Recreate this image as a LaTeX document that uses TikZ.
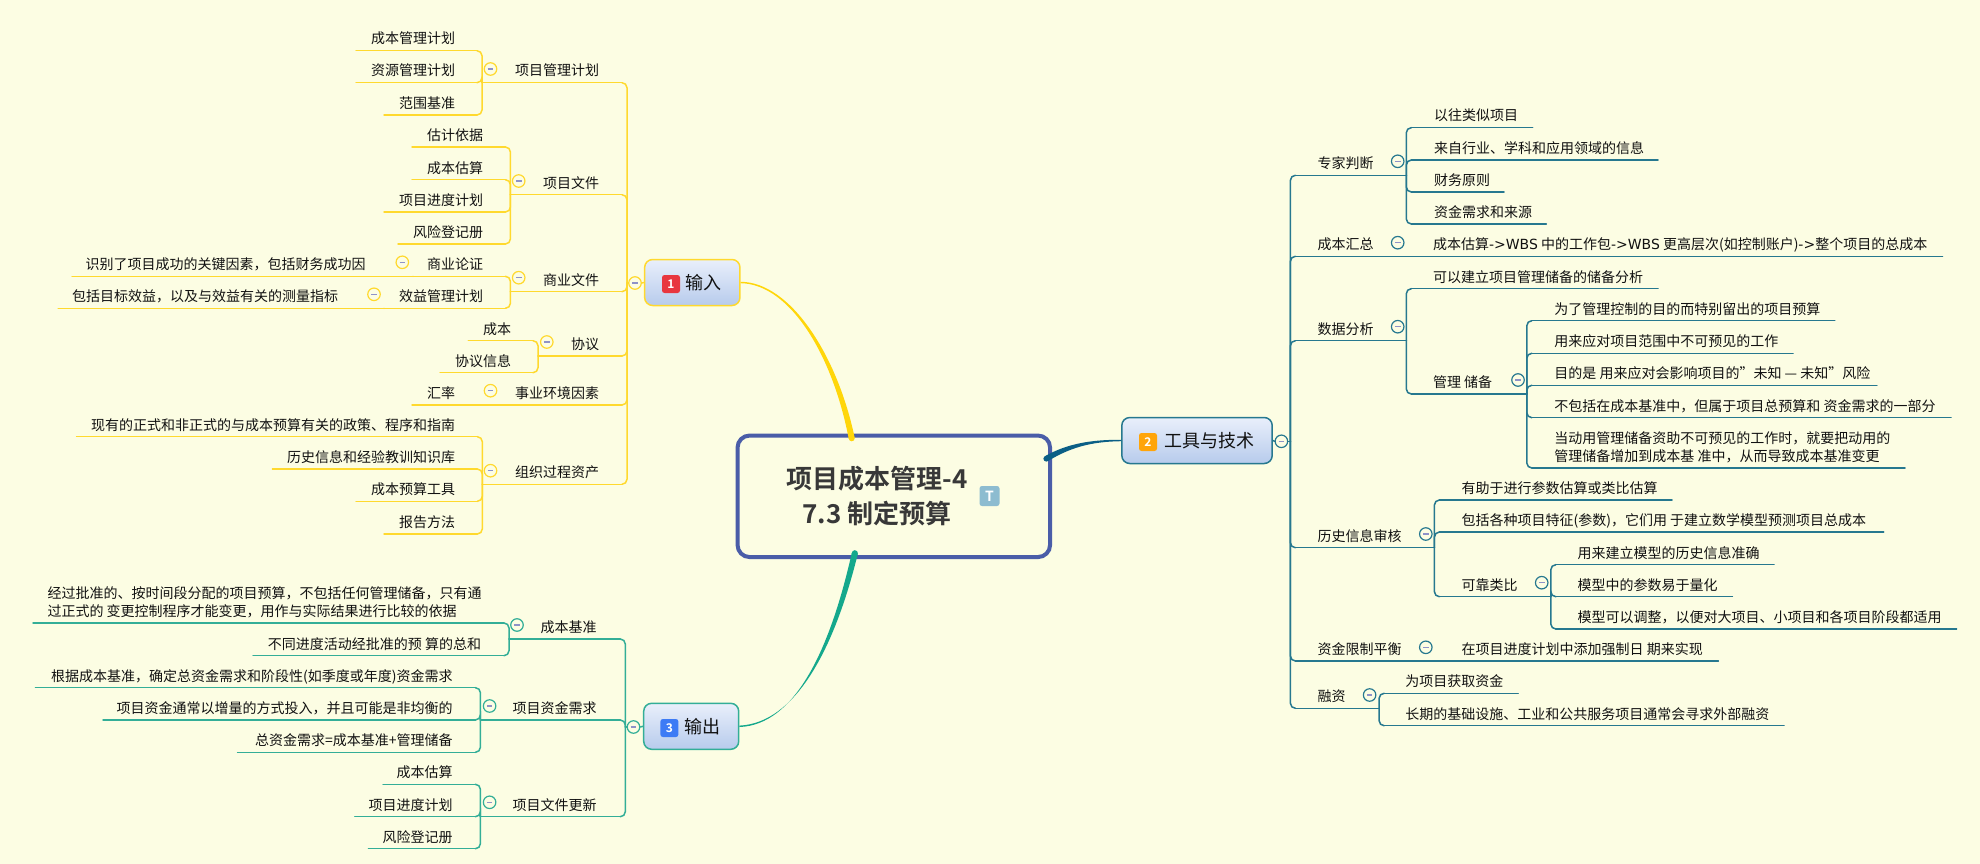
\documentclass[tikz,border=0pt]{standalone}
\usepackage{fontspec}
\setmainfont{Noto Sans CJK SC}[BoldFont=Noto Sans CJK SC Bold]
\newfontfamily\lat{DejaVu Sans}
\usetikzlibrary{calc}
\definecolor{bgc}{HTML}{FCFDE3}
\definecolor{ycol}{HTML}{FFD92E}
\definecolor{gcol}{HTML}{33AE97}
\definecolor{bcol}{HTML}{26788F}
\definecolor{ymain}{HTML}{FFD60A}
\definecolor{gmain}{HTML}{14A88C}
\definecolor{bmain}{HTML}{0B5F86}
\definecolor{mainc}{HTML}{4A5DA8}
\definecolor{topt}{HTML}{E9EFFB}
\definecolor{topb}{HTML}{B7CBEC}
\definecolor{minusc}{HTML}{8E92C8}
\definecolor{txt}{HTML}{111111}
\definecolor{ic1}{HTML}{E8363F}
\definecolor{ic2}{HTML}{FFA50A}
\definecolor{ic3}{HTML}{3D7BF5}
\definecolor{icT}{HTML}{8DBCD0}
\colorlet{br}{ycol}
\tikzset{
  leaf/.style={inner sep=0pt,outer sep=0pt,text=txt,font=\fontsize{14pt}{18.3pt}\selectfont},
  ul/.style={draw=br,line width=1.5pt,line cap=round},
  tog/.style={circle,draw=br,fill=bgc,line width=1.2pt,minimum size=12.5pt,inner sep=0pt,
    path picture={\draw[minusc,line width=1.2pt] ([xshift=-2.8pt]path picture bounding box.center) -- ([xshift=2.8pt]path picture bounding box.center);}},
  topicbox/.style={draw=br,line width=1.5pt,rounded corners=8pt,top color=topt,bottom color=topb,
    text=txt,font=\fontsize{18pt}{22pt}\selectfont,inner sep=0pt,minimum height=46pt},
  icon/.style={rounded corners=2.5pt,minimum size=18pt,inner sep=0pt,text=white,font=\fontsize{12pt}{14pt}\selectfont\bfseries},
  mainbox/.style={draw=mainc,line width=4pt,rounded corners=12pt,fill=bgc,minimum width=312.5pt,minimum height=121.5pt,
    inner sep=0pt,align=center,text=black!78,font=\fontsize{26pt}{35pt}\selectfont\bfseries},
}
\newcommand\ls{\rule[-6.7pt]{0pt}{12pt}}
\newcommand\leafR[6]{%
  \pgfmathsetmacro\lfW{#3-(#2)}\pgfmathsetmacro\lfP{#5-(#2)}%
  \node[leaf,anchor=south west,text width=\lfW pt,align=flush left] (#1) at (#2,#4) {\hspace*{\lfP pt}\mbox{#6}\ls};
  \draw[ul] ($(#1.south west)+(5,0)$) -- (#1.south east);}
\newcommand\leafRR[7]{%
  \pgfmathsetmacro\lfW{#3-(#2)}\pgfmathsetmacro\lfP{#5-(#2)}%
  \node[leaf,anchor=south west,text width=\lfW pt,align=flush left] (#1) at (#2,#4) {\hspace*{\lfP pt}\mbox{#6}\\\hspace*{\lfP pt}\mbox{#7}\ls};
  \draw[ul] ($(#1.south west)+(5,0)$) -- (#1.south east);}
\newcommand\leafL[6]{%
  \pgfmathsetmacro\lfW{#3-(#2)}\pgfmathsetmacro\lfP{#3-(#5)}%
  \node[leaf,anchor=south east,text width=\lfW pt,align=flush right] (#1) at (#3,#4) {\mbox{#6\ls}\hspace*{\lfP pt}};
  \draw[ul] (#1.south west) -- ($(#1.south east)+(-5,0)$);}
\newcommand\leafLL[7]{%
  \pgfmathsetmacro\lfW{#3-(#2)}\pgfmathsetmacro\lfP{#5-(#2)}%
  \node[leaf,anchor=south east,text width=\lfW pt,align=flush left] (#1) at (#3,#4) {\hspace*{\lfP pt}\mbox{#6}\\\hspace*{\lfP pt}\mbox{#7}\ls};
  \draw[ul] (#1.south west) -- ($(#1.south east)+(-5,0)$);}
\newcommand\brL[2]{\draw[ul,rounded corners=5pt] (#1.south west) |- ($(#2.south east)+(-5,0)$);}
\newcommand\brR[2]{\draw[ul,rounded corners=5pt] (#1.south east) |- ($(#2.south west)+(5,0)$);}
\newcommand\strL[2]{\draw[ul] (#1.south west) -- (#2.south east);\draw[ul] ($(#2.south east)+(-6,0)$) -- (#2.south east);}
\newcommand\strR[2]{\draw[ul] (#1.south east) -- ($(#2.south west)+(6,0)$);}
\newcommand\topL[2]{\draw[ul,rounded corners=5pt] (#1) |- ($(#2.south east)+(-5,0)$);}
\newcommand\topR[2]{\draw[ul,rounded corners=5pt] (#1) |- ($(#2.south west)+(5,0)$);}
\begin{document}
\begin{tikzpicture}[x=1pt,y=-1pt]
\useasboundingbox (0,0) rectangle (1980,864);
\fill[bgc] (0,0) rectangle (1980,864);

%% central topic
\node[mainbox] (main) at (893.8,496.3) {项目成本管理-4\hspace*{33.6pt}\\7.3 制定预算\hspace*{33.6pt}};
\node[icon,fill=icT,minimum size=20pt,font=\fontsize{14pt}{16pt}\selectfont\bfseries] (ticon) at (989.5,496) {T};

%% ===== input branch (yellow)
\colorlet{br}{ycol}
\node[topicbox,minimum width=95.3pt] (in) at (692.3,282.5) {\hspace*{22pt}\raisebox{-1pt}{输入}};
\node[icon,fill=ic1] (in-i) at (671,284) {1};
\coordinate (inj) at (627,283);
\node[tog] (in-t) at (635,283) {};
\draw[ul] (in-t.east) -- (in.west);
\draw[ul] (in-t.west) -- (inj);
\coordinate (inm) at (851.7,438.3);
\fill[ymain] ($(in.east)+(0,-.7)$) .. controls (790,282) and (837.2,354.6) .. ($(inm)+(2.95,-.6)$)
  -- ($(inm)+(-2.95,.6)$) .. controls (832.8,355.4) and (790,284) .. ($(in.east)+(0,.7)$) -- cycle;
\fill[ymain] (inm) circle[radius=3];

\leafL{a1}{482}{627}{82.7}{599}{项目管理计划}
\leafL{a11}{356}{482}{50.7}{455}{成本管理计划}
\leafL{a12}{356}{482}{82.7}{455}{资源管理计划}
\leafL{a13}{384}{482}{115}{455}{范围基准}
\brL{a1}{a11}\brL{a1}{a12}\brL{a1}{a13}
\node[tog] (a1t) at (490.5,69) {};

\leafL{a2}{510.4}{627}{194.7}{599}{项目文件}
\leafL{a21}{412}{510.4}{147}{483}{估计依据}
\leafL{a22}{412}{510.4}{179.7}{483}{成本估算}
\leafL{a23}{384}{510.4}{212}{483}{项目进度计划}
\leafL{a24}{398}{510.4}{244}{483}{风险登记册}
\brL{a2}{a21}\brL{a2}{a22}\brL{a2}{a23}\brL{a2}{a24}
\node[tog] (a2t) at (518.7,181) {};

\leafL{a3}{510.4}{627}{291.7}{599}{商业文件}
\leafL{a31}{413}{510.4}{276.3}{483}{商业论证}
\leafL{a32}{384}{510.4}{308.3}{483}{效益管理计划}
\leafL{a311}{72}{413}{276.3}{365.5}{识别了项目成功的关键因素，包括财务成功因}
\leafL{a321}{58.2}{384}{308.3}{338}{包括目标效益，以及与效益有关的测量指标}
\brL{a3}{a31}\brL{a3}{a32}
\strL{a31}{a311}
\strL{a32}{a321}
\node[tog] (a3t) at (518.7,277.7) {};
\node[tog] (a31t) at (402.3,262.3) {};
\node[tog] (a32t) at (374,294.3) {};

\leafL{a4}{538}{627}{356}{599}{协议}
\leafL{a41}{468.3}{538}{340.7}{511}{成本}
\leafL{a42}{440}{538}{372.7}{511}{协议信息}
\brL{a4}{a41}\brL{a4}{a42}
\node[tog] (a4t) at (546.8,342) {};

\leafL{a5}{482}{627}{405}{599}{事业环境因素}
\leafL{a51}{412}{482}{405}{455}{汇率}
\strL{a5}{a51}
\node[tog] (a5t) at (490.5,390.7) {};

\leafL{a6}{482.3}{627}{484.3}{599}{组织过程资产}
\leafL{a61}{76.6}{482.3}{436.7}{455}{现有的正式和非正式的与成本预算有关的政策、程序和指南}
\leafL{a62}{272.4}{482.3}{469}{455}{历史信息和经验教训知识库}
\leafL{a63}{356}{482.3}{501.3}{455}{成本预算工具}
\leafL{a64}{384}{482.3}{534}{455}{报告方法}
\brL{a6}{a61}\brL{a6}{a62}\brL{a6}{a63}\brL{a6}{a64}
\node[tog] (a6t) at (490.5,470.7) {};
\topL{inj}{a1}\topL{inj}{a2}\topL{inj}{a3}\topL{inj}{a4}\topL{inj}{a5}\topL{inj}{a6}

%% ===== output branch (green)
\colorlet{br}{gcol}
\node[topicbox,minimum width=95pt] (out) at (691.2,726.3) {\hspace*{22pt}\raisebox{-1pt}{输出}};
\node[icon,fill=ic3] (out-i) at (669.4,728) {3};
\coordinate (outj) at (625.3,727);
\node[tog] (out-t) at (633.5,727) {};
\draw[ul] (out-t.east) -- (out.west);
\draw[ul] (out-t.west) -- (outj);
\coordinate (outm) at (854.8,553.3);
\fill[gmain] ($(out.east)+(0,-.7)$) .. controls (795,723) and (834,650.5) .. ($(outm)+(3,.5)$)
  -- ($(outm)+(-3,-.5)$) .. controls (830,649.5) and (795,725) .. ($(out.east)+(0,.7)$) -- cycle;
\fill[gmain] (outm) circle[radius=3.1];

\leafL{b1}{509}{625.3}{639}{596.7}{成本基准}
\leafLL{b11}{33}{509}{623}{47.5}{经过批准的、按时间段分配的项目预算，不包括任何管理储备，只有通}{过正式的 变更控制程序才能变更，用作与实际结果进行比较的依据}
\leafL{b12}{253}{509}{655.7}{481}{不同进度活动经批准的预 算的总和}
\brL{b1}{b11}\brL{b1}{b12}
\node[tog] (b1t) at (517,625) {};

\leafL{b2}{480.4}{625.3}{720}{596.7}{项目资金需求}
\leafL{b21}{35.4}{480.4}{687.7}{452.7}{根据成本基准，确定总资金需求和阶段性(如季度或年度)资金需求}
\leafL{b22}{103}{480.4}{720}{452.7}{项目资金通常以增量的方式投入，并且可能是非均衡的}
\leafL{b23}{237.5}{480.4}{752.3}{452.7}{总资金需求=成本基准+管理储备}
\brL{b2}{b21}\brL{b2}{b22}\brL{b2}{b23}
\node[tog] (b2t) at (489.6,706) {};

\leafL{b3}{480.4}{625.3}{816.7}{596.7}{项目文件更新}
\leafL{b31}{383}{480.4}{784.3}{452.7}{成本估算}
\leafL{b32}{354.8}{480.4}{816.7}{452.7}{项目进度计划}
\leafL{b33}{368.4}{480.4}{848.7}{452.7}{风险登记册}
\brL{b3}{b31}\brL{b3}{b32}\brL{b3}{b33}
\node[tog] (b3t) at (489.6,802.3) {};
\topL{outj}{b1}\topL{outj}{b2}\topL{outj}{b3}

%% ===== tools branch (blue)
\colorlet{br}{bcol}
\node[topicbox,minimum width=150.4pt] (tool) at (1197,440.5) {\hspace*{24pt}\raisebox{-1pt}{工具与技术}};
\node[icon,fill=ic2] (tool-i) at (1148,442) {2};
\coordinate (toolj) at (1290.4,441.3);
\node[tog] (tool-t) at (1281.4,441.3) {};
\draw[ul] (tool-t.west) -- (tool.east);
\draw[ul] (tool-t.east) -- (toolj);
\coordinate (toolm) at (1046.3,458.7);
\fill[bmain] ($(tool.west)+(0,-.7)$) .. controls (1090,439.6) and (1066.6,444) .. ($(toolm)+(-1.4,-2.5)$)
  -- ($(toolm)+(1.4,2.5)$) .. controls (1069.4,448) and (1090,441.6) .. ($(tool.west)+(0,.7)$) -- cycle;
\fill[bmain] (toolm) circle[radius=2.9];

\leafR{c1}{1290.4}{1406.3}{175.3}{1317.6}{专家判断}
\leafR{c11}{1406.3}{1532.7}{127.7}{1434}{以往类似项目}
\leafR{c12}{1406.3}{1658}{160}{1434}{来自行业、学科和应用领域的信息}
\leafR{c13}{1406.3}{1504}{192}{1434}{财务原则}
\leafR{c14}{1406.3}{1546.3}{224}{1434}{资金需求和来源}
\brR{c1}{c11}\brR{c1}{c12}\brR{c1}{c13}\brR{c1}{c14}
\node[tog] (c1t) at (1397.7,161.3) {};

\leafR{c2}{1290.4}{1406.3}{256.3}{1317.6}{成本汇总}
\leafR{c21}{1406.3}{1942.5}{256.3}{1433}{成本估算{\lat ->WBS} 中的工作包{\lat ->WBS} 更高层次(如控制账户){\lat ->}整个项目的总成本}
\strR{c2}{c21}
\node[tog] (c2t) at (1397.7,242.7) {};

\leafR{c3}{1290.4}{1406.3}{340.7}{1317.6}{数据分析}
\leafR{c31}{1406.3}{1658}{288.7}{1433}{可以建立项目管理储备的储备分析}
\leafR{c32}{1406.3}{1526.8}{394}{1433}{管理 储备}
\brR{c3}{c31}\brR{c3}{c32}
\node[tog] (c3t) at (1397.7,326.7) {};
\leafR{c321}{1526.8}{1834.8}{320.7}{1554.4}{为了管理控制的目的而特别留出的项目预算}
\leafR{c322}{1526.8}{1793}{353.3}{1554.4}{用来应对项目范围中不可预见的工作}
\leafR{c323}{1526.8}{1876.9}{385.3}{1554.4}{目的是 用来应对会影响项目的”未知 — 未知”风险}
\leafR{c324}{1526.8}{1951}{417.7}{1554.4}{不包括在成本基准中，但属于项目总预算和 资金需求的一部分}
\leafRR{c325}{1526.8}{1905}{468}{1554.4}{当动用管理储备资助不可预见的工作时，就要把动用的}{管理储备增加到成本基 准中，从而导致成本基准变更}
\brR{c32}{c321}\brR{c32}{c322}\brR{c32}{c323}\brR{c32}{c324}\brR{c32}{c325}
\node[tog] (c32t) at (1518,380) {};

\leafR{c4}{1290.4}{1434.4}{547.7}{1317.6}{历史信息审核}
\leafR{c41}{1434.4}{1672}{500}{1461.6}{有助于进行参数估算或类比估算}
\leafR{c42}{1434.4}{1883.7}{532}{1461.6}{包括各种项目特征(参数)，它们用 于建立数学模型预测项目总成本}
\leafR{c43}{1434.4}{1550.8}{596.7}{1461.6}{可靠类比}
\brR{c4}{c41}\brR{c4}{c42}\brR{c4}{c43}
\node[tog] (c4t) at (1425.8,534) {};
\leafR{c431}{1550.8}{1774}{564.7}{1577.5}{用来建立模型的历史信息准确}
\leafR{c432}{1550.8}{1732.4}{596.7}{1577.5}{模型中的参数易于量化}
\leafR{c433}{1550.8}{1956.6}{629}{1577.5}{模型可以调整，以便对大项目、小项目和各项目阶段都适用}
\brR{c43}{c431}\brR{c43}{c432}\brR{c43}{c433}
\node[tog] (c43t) at (1541.7,582.7) {};

\leafR{c5}{1290.4}{1434.4}{661}{1317.6}{资金限制平衡}
\leafR{c51}{1434.4}{1718.4}{661}{1461.6}{在项目进度计划中添加强制日 期来实现}
\strR{c5}{c51}
\node[tog] (c5t) at (1425.8,647.3) {};

\leafR{c6}{1290.4}{1379.1}{708.3}{1317.6}{融资}
\leafR{c61}{1379.1}{1518.2}{693.3}{1405.4}{为项目获取资金}
\leafR{c62}{1379.1}{1784}{725.7}{1405.4}{长期的基础设施、工业和公共服务项目通常会寻求外部融资}
\brR{c6}{c61}\brR{c6}{c62}
\node[tog] (c6t) at (1369.6,695) {};
\topR{toolj}{c1}\topR{toolj}{c2}\topR{toolj}{c3}\topR{toolj}{c4}\topR{toolj}{c5}\topR{toolj}{c6}
\end{tikzpicture}
\end{document}
